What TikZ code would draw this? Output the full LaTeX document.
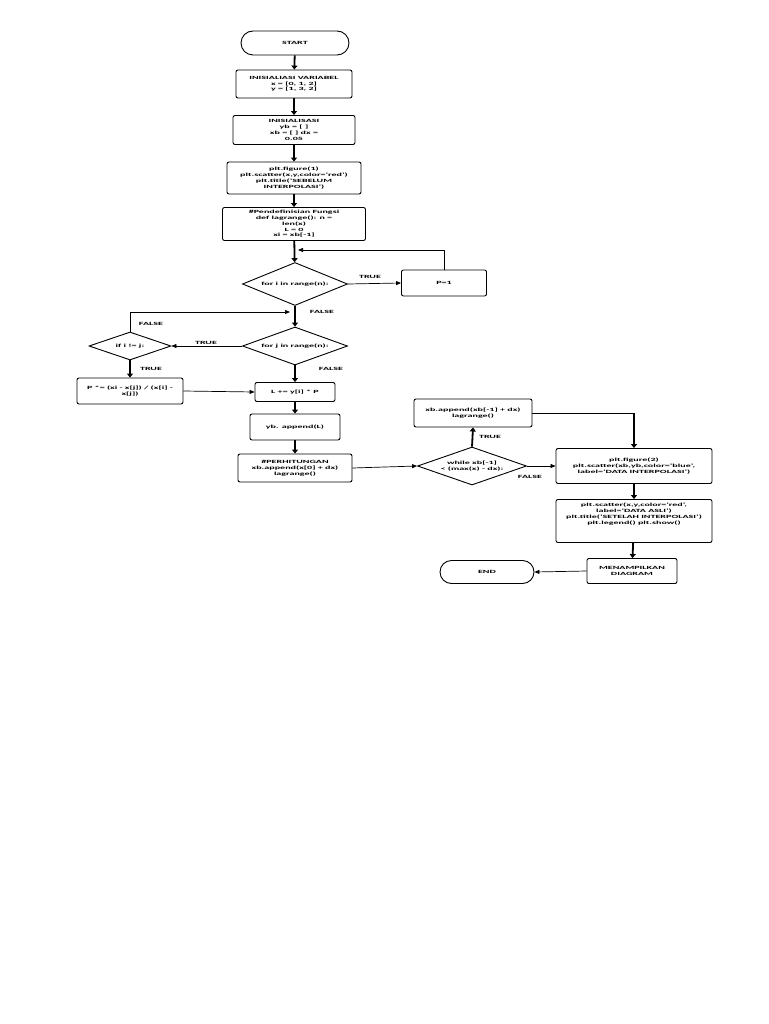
\documentclass[tikz,border=0pt]{standalone}
\usepackage{fontspec}
\setmainfont{Carlito}[FakeStretch=2.1]
\usetikzlibrary{positioning, arrows.meta, shapes.geometric, shapes.misc}
\tikzstyle{box}=[draw, line width=0.9pt, rounded corners=2pt, inner sep=1pt, align=center]
\tikzstyle{decision}=[draw, line width=0.9pt, diamond, aspect=2.4, inner sep=0pt, align=center]
\tikzstyle{terminal}=[draw, line width=0.9pt, rounded rectangle, inner sep=1pt]
\tikzstyle{flow}=[-{Triangle[length=4pt, width=6pt]}, line width=1.8pt]
\tikzstyle{link}=[-{Triangle[length=5pt, width=4pt]}, line width=0.7pt]
\tikzstyle{lbl}=[inner sep=0pt]

\begin{document}
\begin{tikzpicture}[x=1pt, y=-1pt, every node/.style={font=\fontsize{4.8}{5.8}\selectfont\bfseries}]
            \useasboundingbox[fill=white] (0,0) rectangle (768,1024);
            % main column
            \node[terminal, minimum width=110, minimum height=24] (start) at (295,43) {START};
            \node[box, minimum width=116, minimum height=28] (init) at (294,84) {INISIALIASI VARIABEL\\x = [0, 1, 2]\\y = [1, 3, 2]};
            \node[box, minimum width=122, minimum height=29] (initb) at (294,130) {INISIALISASI\\yb = [ ]\\xb = [ ] dx =\\0.05};
            \node[box, minimum width=134, minimum height=32] (fig1) at (294,178) {plt.figure(1)\\plt.scatter(x,y,color='red')\\plt.title('SEBELUM\\INTERPOLASI')};
            \node[box, minimum width=143, minimum height=33] (lagr) at (294,224) {\#Pendefinisian Fungsi\\def lagrange(): n =\\len(x)\\L = 0\\xi = xb[-1]};
            \node[decision, minimum width=105, minimum height=43] (fori) at (295,284) {for i in range(n):};
            \node[box, minimum width=85, minimum height=26] (pone) at (444,283) {P=1};
            \node[decision, minimum width=105, minimum height=38] (forj) at (295,346) {for j in range(n):};
            \node[decision, minimum width=82, minimum height=28] (ifij) at (130,346) {if i != j:};
            \node[box, minimum width=106, minimum height=26] (pmul) at (130,391) {P *= (xi - x[j]) / (x[i] -\\x[j])};
            \node[box, minimum width=80, minimum height=19] (lsum) at (295,392) {L += y[i] * P};
            \node[box, minimum width=90, minimum height=26] (ybapp) at (295,427) {yb. append(L)};
            \node[box, minimum width=114, minimum height=28] (hitung) at (295,468) {\#PERHITUNGAN\\xb.append(x[0] + dx)\\lagrange()};
            % right column
            \node[decision, minimum width=109, minimum height=38] (while) at (472,466) {while xb[-1]\\< (max(x) - dx):};
            \node[box, minimum width=118, minimum height=28] (xbapp) at (473,413) {xb.append(xb[-1] + dx)\\lagrange()};
            \node[box, minimum width=156, minimum height=35] (fig2) at (634,466) {plt.figure(2)\\plt.scatter(xb,yb,color='blue',\\label='DATA INTERPOLASI')};
            \node[box, minimum width=156, minimum height=43] (fig3) at (634,521) {plt.scatter(x,y,color='red',\\label='DATA ASLI')\\plt.title('SETELAH INTERPOLASI')\\plt.legend() plt.show()\\\rule{0pt}{13pt}};
            \node[box, minimum width=90, minimum height=25] (tampil) at (632,571) {MENAMPILKAN\\DIAGRAM};
            \node[terminal, minimum width=96, minimum height=23] (end) at (487,572) {END};
            \coordinate (loopi) at (298,250);
            \coordinate (loopj) at (290,312);
            \coordinate (xbturn) at (xbapp.east -| fig2.north);
            % connectors
            \draw[flow] (start) -- (init);
            \draw[flow] (init) -- (initb);
            \draw[flow] (initb) -- (fig1);
            \draw[flow] (fig1) -- (lagr);
            \draw[flow] (lagr) -- (fori);
            \draw[flow] (fori) -- (forj);
            \draw[flow] (forj) -- (lsum);
            \draw[flow] (lsum) -- (ybapp);
            \draw[flow] (ybapp) -- (hitung);
            \draw[link] (fori.east) -- (pone.west);
            \draw[link] (pone.north) |- (loopi);
            \draw[link] (forj.west) -- (ifij.east);
            \draw[link] (ifij.north) |- (loopj);
            \draw[flow] (ifij) -- (pmul);
            \draw[link] (pmul.east) -- (lsum.west);
            \draw[link] (hitung.east) -- (while.west);
            \draw[flow] (while.north) -- (xbapp.south);
            \draw[line width=0.7pt] (xbapp.east) -- (xbturn);
            \draw[flow] (xbturn) -- (fig2.north);
            \draw[link] (while.east) -- (fig2.west);
            \draw[flow] (fig2) -- (fig3);
            \draw[flow] (fig3) -- (tampil);
            \draw[link] (tampil.west) -- (end.east);
            % labels
            \node[lbl] (tfori) at (370,277) {TRUE};
            \node[lbl] (ffori) at (322,312) {FALSE};
            \node[lbl] (tforj) at (206,343) {TRUE};
            \node[lbl] (fifij) at (151,324) {FALSE};
            \node[lbl] (tifij) at (151,369) {TRUE};
            \node[lbl] (fforj) at (331,369) {FALSE};
            \node[lbl] (twhile) at (490,437) {TRUE};
            \node[lbl] (fwhile) at (530,477) {FALSE};
        \end{tikzpicture}
\end{document}
